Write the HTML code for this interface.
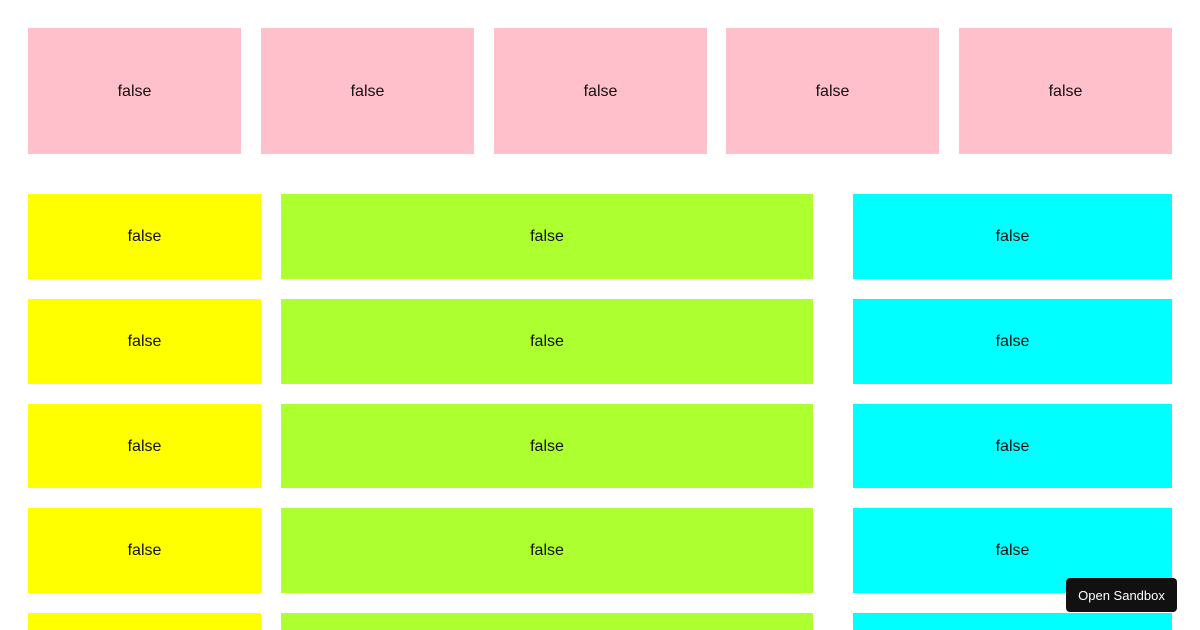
<!DOCTYPE html>
<html style="width:1200px;height:630px;overflow:hidden"><head><style>
*{margin:0;padding:0;box-sizing:border-box}
body{width:1200px;height:630px;overflow:hidden;background:#fff;font-family:"Liberation Sans",sans-serif;position:relative}
.b{position:absolute;display:flex;align-items:center;justify-content:center;font-size:16px;color:#111;padding-top:1px}
.p{background:#ffc0cb;top:28px;height:126px;width:213px}
.y{background:#ffff00;left:28px;width:233px}
.g{background:#adff2f;left:281px;width:532px}
.c{background:#00ffff;left:853px;width:319px}
.btn{position:absolute;left:1066px;top:578px;width:111px;height:34px;background:#111;color:#fff;border-radius:4px;font-size:13px;display:flex;align-items:center;justify-content:center}
</style></head><body>
<div class="b p" style="left:28px">false</div>
<div class="b p" style="left:261px">false</div>
<div class="b p" style="left:494px">false</div>
<div class="b p" style="left:726px">false</div>
<div class="b p" style="left:959px">false</div>

<div class="b y" style="top:194px;height:85px">false</div>
<div class="b g" style="top:194px;height:85px">false</div>
<div class="b c" style="top:194px;height:85px">false</div>

<div class="b y" style="top:299px;height:85px">false</div>
<div class="b g" style="top:299px;height:85px">false</div>
<div class="b c" style="top:299px;height:85px">false</div>

<div class="b y" style="top:404px;height:84px">false</div>
<div class="b g" style="top:404px;height:84px">false</div>
<div class="b c" style="top:404px;height:84px">false</div>

<div class="b y" style="top:508px;height:85px">false</div>
<div class="b g" style="top:508px;height:85px">false</div>
<div class="b c" style="top:508px;height:85px">false</div>

<div class="b y" style="top:613px;height:17px"></div>
<div class="b g" style="top:613px;height:17px"></div>
<div class="b c" style="top:613px;height:17px"></div>

<div class="btn">Open Sandbox</div>
</body></html>
